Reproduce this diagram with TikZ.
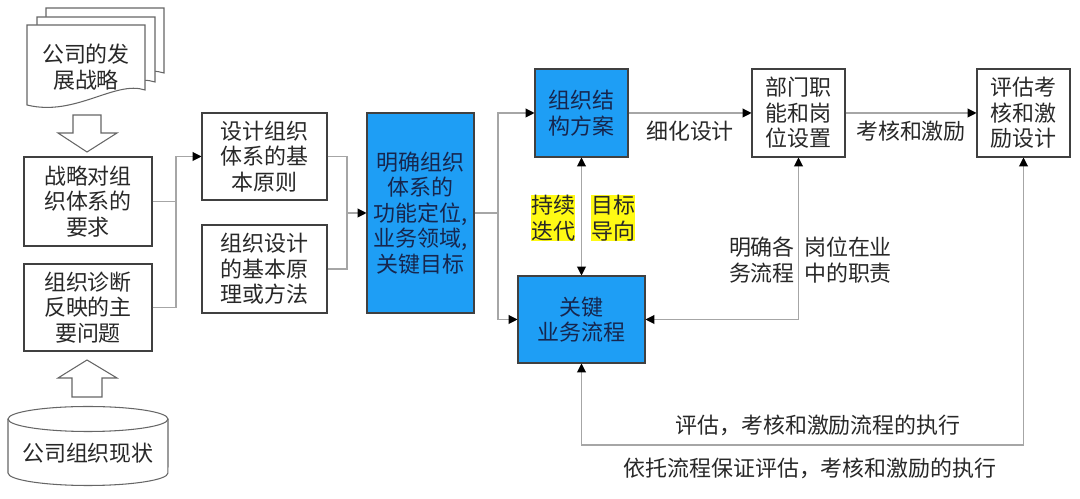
\documentclass[tikz,border=0pt]{standalone}
\usepackage{fontspec}
\setmainfont{Noto Sans CJK SC}
\usepackage{tikz}
\usetikzlibrary{arrows.meta,positioning}
\definecolor{boxblue}{RGB}{30,158,245}
\definecolor{navytext}{RGB}{22,38,78}
\definecolor{inkgray}{RGB}{40,40,40}
\definecolor{marker}{RGB}{255,250,20}

\begin{document}
\begin{tikzpicture}[x=0.02cm,y=-0.02cm,
  font=\fontsize{12.5pt}{14.5pt}\selectfont,
  plainbox/.style={draw=black!75, line width=0.6pt, fill=white, align=center,
    inner sep=0pt, text=inkgray},
  bluebox/.style={plainbox, fill=boxblue, text=navytext},
  link/.style={draw=black!35, line width=0.6pt},
  arrowlink/.style={link, -{Triangle[length=5pt,width=5pt,color=black]}},
  twowaylink/.style={link, {Triangle[length=5pt,width=5pt,color=black]}-{Triangle[length=5pt,width=5pt,color=black]}},
  hollow/.style={draw=black!60, line width=0.6pt, fill=white},
  note/.style={text=inkgray, align=center, inner sep=1pt}]
  \useasboundingbox (0,0) rectangle (1080,499);

  \draw[hollow] (46,8) -- (164,8) -- (164,73) .. controls (134,63) and (94,100) .. (46,88) -- cycle;
  \draw[hollow] (37,17) -- (155,17) -- (155,82) .. controls (125,72) and (85,109) .. (37,97) -- cycle;
  \draw[hollow] (27,25) -- (145,25) -- (145,90) .. controls (115,80) and (75,117) .. (27,105) -- cycle;
  \node[note] (strategy) at (86,67) {公司的发\\展战略};

  \draw[hollow] (73,115) -- (101,115) -- (101,133) -- (117,133) -- (87,152) -- (58,133) -- (73,133) -- cycle;
  \draw[hollow] (72,397) -- (102,397) -- (102,378) -- (117,378) -- (87,360) -- (58,378) -- (72,378) -- cycle;

  \draw[hollow] (8,419) -- (8,473) arc[start angle=180, end angle=360, x radius=1.6cm, y radius=0.25cm] -- (168,419);
  \draw[hollow] (88,419) ellipse [x radius=1.6cm, y radius=0.25cm];
  \node[note] (status) at (88,453) {公司组织现状};

  \node[plainbox, minimum width=2.56cm, minimum height=1.78cm] (demand) at (88,201.5) {战略对组\\织体系的\\要求};
  \node[plainbox, minimum width=2.56cm, minimum height=1.74cm] (issue) at (88,307.5) {组织诊断\\反映的主\\要问题};

  \node[plainbox, minimum width=2.5cm, minimum height=1.74cm] (principle) at (264.5,156.5) {设计组织\\体系的基\\本原则};
  \node[plainbox, minimum width=2.5cm, minimum height=1.76cm] (method) at (264.5,269) {组织设计\\的基本原\\理或方法};

  \node[bluebox, minimum width=2.14cm, minimum height=4cm] (function) at (420.5,213) {明确组织\\体系的\\功能定位,\\业务领域,\\关键目标};

  \node[bluebox, minimum width=1.86cm, minimum height=1.76cm] (structure) at (581.5,113) {组织结\\构方案};
  \node[plainbox, minimum width=1.86cm, minimum height=1.76cm] (dept) at (798.5,113) {部门职\\能和岗\\位设置};
  \node[plainbox, minimum width=1.86cm, minimum height=1.76cm] (eval) at (1023.5,113) {评估考\\核和激\\励设计};
  \node[bluebox, minimum width=2.54cm, minimum height=1.74cm] (process) at (581.5,319.5) {关键\\业务流程};

  \coordinate (busA) at (176,0);
  \coordinate (busB) at (347,0);
  \coordinate (busC) at (498,0);
  \coordinate (loopbottom) at (800,445);

  \draw[link] (demand.east) -- (demand.east -| busA);
  \draw[arrowlink] (issue.east) -| (busA |- principle.west) -- (principle.west);
  \draw[link] (principle.east) -| (busB |- function.west);
  \draw[arrowlink] (method.east) -| (busB |- function.west) -- (function.west);
  \draw[arrowlink] (function.east) -| (busC |- structure.west) -- (structure.west);
  \draw[arrowlink] (function.east -| busC) |- (process.west);

  \draw[arrowlink] (structure.east) -- node[note, below=3pt] (refine) {细化设计} (dept.west);
  \draw[arrowlink] (dept.east) -- node[note, below=3pt] (reward) {考核和激励} (eval.west);

  \draw[twowaylink] (structure.south) -- (process.north);
  \node[note, fill=marker, inner sep=0pt] (iterate) at (553,218) {持续\\迭代};
  \node[note, fill=marker, inner sep=0pt] (target) at (613,218) {目标\\导向};

  \draw[twowaylink] (process.east) -| (dept.south);
  \node[note, anchor=east] (dutyleft) at (797,260) {明确各\\务流程};
  \node[note, anchor=west] (dutyright) at (802,260) {岗位在业\\中的职责};

  \draw[twowaylink] (process.south) |- (loopbottom) -| (eval.south);
  \node[note] (execute) at (818,425) {评估，考核和激励流程的执行};
  \node[note] (support) at (810,468) {依托流程保证评估，考核和激励的执行};
\end{tikzpicture}
\end{document}
